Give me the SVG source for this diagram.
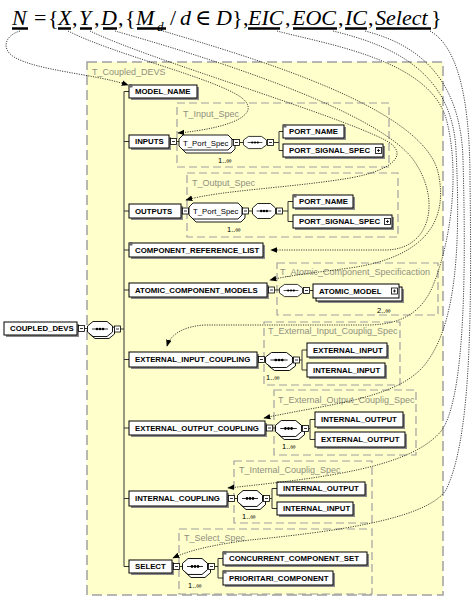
<svg xmlns="http://www.w3.org/2000/svg" xmlns:xlink="http://www.w3.org/1999/xlink" width="474" height="604" viewBox="0 0 474 604">
<style>
.box{fill:#fff;stroke:#000;stroke-width:1}
.sh{fill:#8a8a8a}
.ic{fill:#666}
.el{font-family:"Liberation Sans",Arial,sans-serif;font-weight:bold;font-size:7.8px;fill:#000}
.ty{font-family:"Liberation Sans",Arial,sans-serif;font-size:7.8px;fill:#000}
.lbl{font-family:"Liberation Sans",Arial,sans-serif;font-size:9px;fill:#8f8f80}
.mult{font-family:"Liberation Sans",Arial,sans-serif;font-size:7.5px;fill:#000}
.spec{fill:#FFFFCC;stroke:#A0A0A0;stroke-width:1.2;stroke-dasharray:8,4}
.outer{fill:#FFFFCC;stroke:#A0A0A0;stroke-width:1.5;stroke-dasharray:10,5}
.tree{fill:none;stroke:#333;stroke-width:1}
.link{fill:none;stroke:#111;stroke-width:0.8;stroke-dasharray:1.2,1.2;marker-end:url(#ah)}
.f{font-family:"Liberation Serif","Times New Roman",serif;font-style:italic;font-size:22px;fill:#000}
.fu{font-family:"Liberation Serif","DejaVu Serif",serif;font-size:22px;fill:#000}
.ul{stroke:#000;stroke-width:2.5}
</style>
<defs>
<marker id="ah" viewBox="0 0 10 10" refX="9" refY="5" markerWidth="7" markerHeight="7" orient="auto" markerUnits="userSpaceOnUse"><path d="M0,1 L10,5 L0,9 Z" fill="#000"/></marker>
<symbol id="minus" viewBox="0 0 7 7" overflow="visible"><rect x="0.5" y="0.5" width="6" height="6" fill="#fff" stroke="#000" stroke-width="0.8"/><path d="M2,3.5H5" stroke="#000" stroke-width="0.8"/></symbol>
<symbol id="plus" viewBox="0 0 7 7" overflow="visible"><rect x="0.5" y="0.5" width="6" height="6" fill="#fff" stroke="#000" stroke-width="0.8"/><path d="M2,3.5H5M3.5,2V5" stroke="#000" stroke-width="0.8"/></symbol>
<symbol id="seq" viewBox="0 0 26 16" preserveAspectRatio="none" overflow="visible"><path d="M6,0.5H20L25.5,5V11L20,15.5H6L0.5,11V5Z" fill="#fff" stroke="#000" stroke-width="0.9"/><path d="M5,8H21" stroke="#000" stroke-width="0.8"/><circle cx="10" cy="8" r="1.3"/><circle cx="13" cy="8" r="1.3"/><circle cx="16" cy="8" r="1.3"/></symbol>
<symbol id="seqb" viewBox="0 0 26 16" preserveAspectRatio="none" overflow="visible"><path d="M6,0.5H20L25.5,5V11L20,15.5H6L0.5,11V5Z" fill="#fff" stroke="#000" stroke-width="0.9"/></symbol>
</defs>

<!-- formula -->
<g id="formula">
<text class="f" x="12" y="25">N</text>
<text class="fu" x="34" y="25">=</text>
<text class="fu" x="48" y="25">{</text>
<text class="f" x="58" y="25">X</text>
<text class="fu" x="72" y="25">,</text>
<text class="f" x="79" y="25">Y</text>
<text class="fu" x="94" y="25">,</text>
<text class="f" x="101" y="25">D</text>
<text class="fu" x="118" y="25">,</text>
<text class="fu" x="125" y="25">{</text>
<text class="f" x="136" y="25">M</text>
<text class="f" x="157" y="31" style="font-size:13px">d</text>
<text class="fu" x="170" y="25">/</text>
<text class="f" x="180" y="25">d</text>
<text class="fu" x="195" y="25">∈</text>
<text class="f" x="216" y="25">D</text>
<text class="fu" x="232" y="25">}</text>
<text class="fu" x="243" y="25">,</text>
<text class="f" x="248" y="25">EIC</text>
<text class="fu" x="285" y="25">,</text>
<text class="f" x="292" y="25">EOC</text>
<text class="fu" x="338" y="25">,</text>
<text class="f" x="345" y="25">IC</text>
<text class="fu" x="368" y="25">,</text>
<text class="f" x="375" y="25">Select</text>
<text class="fu" x="431" y="25">}</text>
<path class="ul" d="M12,28.5H28M58,28.5H71M80,28.5H92M103,28.5H117M137,28.5H166M248,28.5H280M293,28.5H337M345,28.5H367M376,28.5H431"/>
</g>

<!-- type containers -->
<g id="T_Coupled_DEVS"><rect class="outer" x="87" y="62" width="356" height="533"/><text class="lbl" x="92" y="75">T_Coupled_DEVS</text></g>
<g id="T_Input_Spec"><rect class="spec" x="177" y="103" width="212" height="64"/><text class="lbl" x="183" y="117">T_Input_Spec</text></g>
<g id="T_Output_Spec"><rect class="spec" x="187" y="173" width="211" height="64"/><text class="lbl" x="192" y="186">T_Output_Spec</text></g>
<g id="T_Atomic_Component_Specificaction"><rect class="spec" x="277" y="263" width="161" height="52"/><text class="lbl" x="280" y="275">T_Atomic_Component_Specificaction</text></g>
<g id="T_External_Input_Couplig_Spec"><rect class="spec" x="264" y="322" width="136" height="63"/><text class="lbl" x="268" y="334">T_External_Input_Couplig_Spec</text></g>
<g id="T_External_Output_Couplig_Spec"><rect class="spec" x="274" y="390" width="142" height="65"/><text class="lbl" x="278" y="403">T_External_Output_Couplig_Spec</text></g>
<g id="T_Internal_Couplig_Spec"><rect class="spec" x="234" y="461" width="138" height="62"/><text class="lbl" x="239" y="473">T_Internal_Couplig_Spec</text></g>
<g id="T_Select_Spec"><rect class="spec" x="179" y="529" width="193" height="65"/><text class="lbl" x="184" y="541">T_Select_Spec</text></g>

<!-- tree connectors -->
<g id="tree">
<path class="tree" d="M124,91.5V566.5M124,91.5H129M124,141.5H129M124,211H129M124,250H129M124,290H129M124,359.5H129M124,428H129M124,498.5H129M124,566.5H129M120,329H124"/>
<path class="tree" d="M84,328.5H87"/>
<path class="tree" d="M177,141.5H179M240,142.5H243M274,142.5H279M279,131.5V150.5M279,131.5H283M279,150.5H283"/>
<path class="tree" d="M249,211H252M283,211H288M288,201.5V221.5M288,201.5H293M288,221.5H293"/>
<path class="tree" d="M275,290H279M310,290.5H313"/>
<path class="tree" d="M300,360H302M302,350V370M302,350H307M302,370H307"/>
<path class="tree" d="M273,428H275M309,428.5H310M310,419.5V439.5M310,419.5H315M310,439.5H315"/>
<path class="tree" d="M235,498.5H237M270,498.5H272M272,488.5V508.5M272,488.5H277M272,508.5H277"/>
<path class="tree" d="M180,566.5H182M215,566.5H218M218,558.5V578M218,558.5H223M218,578H223"/>
</g>

<!-- nodes -->
<g id="COUPLED_DEVS"><rect class="sh" x="6" y="324" width="73" height="13"/><rect class="box" x="4" y="322" width="73" height="13"/><text class="el" x="10" y="331.3">COUPLED_DEVS</text><use href="#minus" x="78" y="325" width="7" height="7"/></g>
<g id="seq_coupled"><use href="#seqb" x="89" y="323" width="26" height="16"/><use href="#seq" x="87" y="321" width="26" height="16"/><use href="#minus" x="114" y="325.5" width="7" height="7"/></g>

<g id="MODEL_NAME"><rect class="sh" x="131" y="87" width="68" height="13"/><rect class="box" x="129" y="85" width="68" height="13"/><rect class="ic" x="129" y="84" width="3.5" height="3.5"/><text class="el" x="135" y="94.3">MODEL_NAME</text></g>

<g id="INPUTS"><rect class="sh" x="131" y="137" width="40" height="13"/><rect class="box" x="129" y="135" width="40" height="13"/><text class="el" x="135" y="144.3">INPUTS</text><use href="#minus" x="170" y="138" width="7" height="7"/></g>
<g id="T_Port_Spec_in"><path d="M186,138H231L235,142V149L231,153H186L182,149V142Z" fill="#fff" stroke="#000" stroke-width="0.9"/><path d="M183,135H228L232,139V146L228,150H183L179,146V139Z" fill="#fff" stroke="#000" stroke-width="0.9"/><text class="ty" x="183" y="145.5">T_Port_Spec</text><use href="#minus" x="233" y="139" width="7" height="7"/><text class="mult" x="218" y="163">1..∞</text></g>
<g id="seq_in"><use href="#seq" x="243" y="136" width="24" height="13"/><use href="#minus" x="267" y="139" width="7" height="7"/></g>
<g id="PORT_NAME_in"><rect class="sh" x="285" y="127" width="61" height="13"/><rect class="box" x="283" y="125" width="61" height="13"/><rect class="ic" x="283" y="124" width="3.5" height="3.5"/><text class="el" x="289" y="134.3">PORT_NAME</text></g>
<g id="PORT_SIGNAL_SPEC_in"><rect class="sh" x="285" y="146" width="100" height="13"/><rect class="box" x="283" y="144" width="100" height="13"/><text class="el" x="289" y="153.3">PORT_SIGNAL_SPEC</text><use href="#plus" x="375" y="147" width="7" height="7"/></g>

<g id="OUTPUTS"><rect class="sh" x="131" y="206" width="52" height="14"/><rect class="box" x="129" y="204" width="52" height="14"/><text class="el" x="135" y="213.8">OUTPUTS</text><use href="#minus" x="182" y="207.5" width="7" height="7"/></g>
<g id="T_Port_Spec_out"><path d="M196,206H241L245,210V218L241,222H196L192,218V210Z" fill="#fff" stroke="#000" stroke-width="0.9"/><path d="M193,203H238L242,207V215L238,219H193L189,215V207Z" fill="#fff" stroke="#000" stroke-width="0.9"/><text class="ty" x="193" y="214">T_Port_Spec</text><use href="#minus" x="242" y="207.5" width="7" height="7"/><text class="mult" x="227" y="232">1..∞</text></g>
<g id="seq_out"><use href="#seq" x="252" y="203" width="24" height="16"/><use href="#minus" x="276" y="207.5" width="7" height="7"/></g>
<g id="PORT_NAME_out"><rect class="sh" x="295" y="197" width="60" height="13"/><rect class="box" x="293" y="195" width="60" height="13"/><rect class="ic" x="293" y="194" width="3.5" height="3.5"/><text class="el" x="299" y="204.3">PORT_NAME</text></g>
<g id="PORT_SIGNAL_SPEC_out"><rect class="sh" x="295" y="217" width="99" height="13"/><rect class="box" x="293" y="215" width="99" height="13"/><text class="el" x="299" y="224.3">PORT_SIGNAL_SPEC</text><use href="#plus" x="384" y="218" width="7" height="7"/></g>

<g id="COMPONENT_REFERENCE_LIST"><rect class="sh" x="131" y="245" width="134" height="14"/><rect class="box" x="129" y="243" width="134" height="14"/><rect class="ic" x="129" y="242" width="3.5" height="3.5"/><text class="el" x="135" y="252.8">COMPONENT_REFERENCE_LIST</text></g>

<g id="ATOMIC_COMPONENT_MODELS"><rect class="sh" x="131" y="285" width="138" height="14"/><rect class="box" x="129" y="283" width="138" height="14"/><text class="el" x="135" y="292.8">ATOMIC_COMPONENT_MODELS</text><use href="#minus" x="268" y="286.5" width="7" height="7"/></g>
<g id="seq_atomic"><use href="#seq" x="279" y="284" width="24" height="13"/><use href="#minus" x="303" y="287" width="7" height="7"/></g>
<g id="ATOMIC_MODEL"><rect class="sh" x="318" y="289" width="86" height="14"/><rect class="box" x="316" y="287" width="86" height="14"/><rect class="box" x="313" y="284" width="86" height="14"/><text class="el" x="319" y="293.8">ATOMIC_MODEL</text><use href="#plus" x="391" y="287.5" width="7" height="7"/><text class="mult" x="377" y="313">2..∞</text></g>

<g id="EXTERNAL_INPUT_COUPLING"><rect class="sh" x="131" y="354" width="128" height="15"/><rect class="box" x="129" y="352" width="128" height="15"/><text class="el" x="135" y="362.3">EXTERNAL_INPUT_COUPLING</text><use href="#minus" x="258" y="356" width="7" height="7"/></g>
<g id="seq_eic"><use href="#seqb" x="268" y="355" width="28" height="16"/><use href="#seq" x="265" y="352" width="28" height="16"/><use href="#minus" x="293" y="356.5" width="7" height="7"/><text class="mult" x="266" y="380">1..∞</text></g>
<g id="EXTERNAL_INPUT"><rect class="sh" x="309" y="345" width="80" height="14"/><rect class="box" x="307" y="343" width="80" height="14"/><text class="el" x="313" y="352.8">EXTERNAL_INPUT</text></g>
<g id="INTERNAL_INPUT_eic"><rect class="sh" x="309" y="365" width="78" height="14"/><rect class="box" x="307" y="363" width="78" height="14"/><text class="el" x="313" y="372.8">INTERNAL_INPUT</text></g>

<g id="EXTERNAL_OUTPUT_COUPLING"><rect class="sh" x="131" y="423" width="136" height="14"/><rect class="box" x="129" y="421" width="136" height="14"/><text class="el" x="135" y="430.8">EXTERNAL_OUTPUT_COUPLING</text><use href="#minus" x="266" y="424.5" width="7" height="7"/></g>
<g id="seq_eoc"><use href="#seqb" x="278" y="423" width="27" height="17"/><use href="#seq" x="275" y="420" width="27" height="17"/><use href="#minus" x="302" y="425" width="7" height="7"/><text class="mult" x="282" y="449">1..∞</text></g>
<g id="INTERNAL_OUTPUT_eoc"><rect class="sh" x="317" y="414" width="88" height="15"/><rect class="box" x="315" y="412" width="88" height="15"/><text class="el" x="321" y="422.3">INTERNAL_OUTPUT</text></g>
<g id="EXTERNAL_OUTPUT"><rect class="sh" x="317" y="434" width="90" height="15"/><rect class="box" x="315" y="432" width="90" height="15"/><text class="el" x="321" y="442.3">EXTERNAL_OUTPUT</text></g>

<g id="INTERNAL_COUPLING"><rect class="sh" x="131" y="493" width="98" height="15"/><rect class="box" x="129" y="491" width="98" height="15"/><text class="el" x="135" y="501.3">INTERNAL_COUPLING</text><use href="#minus" x="228" y="495" width="7" height="7"/></g>
<g id="seq_ic"><use href="#seqb" x="240" y="493" width="26" height="17"/><use href="#seq" x="237" y="490" width="26" height="17"/><use href="#minus" x="263" y="495" width="7" height="7"/><text class="mult" x="242" y="519">1..∞</text></g>
<g id="INTERNAL_OUTPUT_ic"><rect class="sh" x="279" y="484" width="88" height="13"/><rect class="box" x="277" y="482" width="88" height="13"/><text class="el" x="283" y="491.3">INTERNAL_OUTPUT</text></g>
<g id="INTERNAL_INPUT_ic"><rect class="sh" x="279" y="504" width="76" height="13"/><rect class="box" x="277" y="502" width="76" height="13"/><text class="el" x="283" y="511.3">INTERNAL_INPUT</text></g>

<g id="SELECT"><rect class="sh" x="131" y="562" width="43" height="13"/><rect class="box" x="129" y="560" width="43" height="13"/><text class="el" x="135" y="569.3">SELECT</text><use href="#minus" x="173" y="563" width="7" height="7"/></g>
<g id="seq_select"><use href="#seqb" x="185" y="561" width="26" height="17"/><use href="#seq" x="182" y="558" width="26" height="17"/><use href="#minus" x="208" y="563" width="7" height="7"/><text class="mult" x="188" y="588">1..∞</text></g>
<g id="CONCURRENT_COMPONENT_SET"><rect class="sh" x="225" y="554" width="144" height="13"/><rect class="box" x="223" y="552" width="144" height="13"/><rect class="ic" x="223" y="551" width="3.5" height="3.5"/><text class="el" x="229" y="561.3">CONCURRENT_COMPONENT_SET</text></g>
<g id="PRIORITARI_COMPONENT"><rect class="sh" x="225" y="573" width="110" height="14"/><rect class="box" x="223" y="571" width="110" height="14"/><rect class="ic" x="223" y="570" width="3.5" height="3.5"/><text class="el" x="229" y="580.8">PRIORITARI_COMPONENT</text></g>

<!-- dotted mapping connectors -->
<g id="connectors">
<path class="link" d="M20,31 C6,35 0,48 14,57 C38,71 95,74 128,85"/>
<path class="link" d="M68,31 C115,55 215,78 242,98 C262,114 232,128 178,133"/>
<path class="link" d="M90,31 C150,60 330,112 385,140 C410,153 395,170 350,178 C290,188 222,190 186,200"/>
<path class="link" d="M115,31 C200,55 372,108 412,158 C442,198 432,250 385,250 L271,250"/>
<path class="link" d="M163,31 C260,60 422,108 438,172 C450,225 420,258 350,268 C312,273 292,275 270,280"/>
<path class="link" d="M277,31 C330,45 428,60 446,118 C460,170 452,240 432,288 C420,314 400,324 370,325 L205,325 C186,326 171,333 167,346"/>
<path class="link" d="M333,31 C390,45 452,70 456,150 C461,250 456,330 422,368 C392,400 322,405 264,418"/>
<path class="link" d="M365,31 C420,45 461,80 463,160 C467,300 462,400 442,430 C412,468 322,478 228,488"/>
<path class="link" d="M430,31 C455,45 470,90 470,180 C472,330 470,440 446,490 C426,520 330,532 250,540 C212,545 190,550 173,558"/>
</g>
</svg>
